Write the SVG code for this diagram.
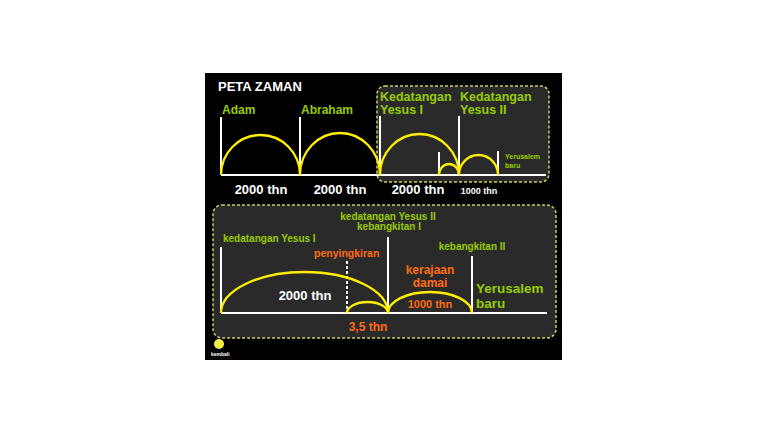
<svg xmlns="http://www.w3.org/2000/svg" width="768" height="433" viewBox="0 0 768 433">
<style>
text{font-family:"Liberation Sans",Arial,sans-serif;font-weight:bold}
.w{fill:#ffffff}
.g{fill:#99cc00}
.o{fill:#ff6a13}
.ln{stroke:#ffffff;stroke-width:2;fill:none}
.arc{stroke:#ffee00;stroke-width:2.3;fill:none}
.box{fill:#2a2a2a;stroke:#cccc66;stroke-width:1.5;stroke-dasharray:3,2}
</style>
<rect x="0" y="0" width="768" height="433" fill="#ffffff"/>
<rect x="205" y="73" width="357" height="287" fill="#000000"/>
<g id="boxes">
<rect id="box-top" class="box" x="377" y="86" width="172" height="96" rx="8"/>
<rect id="box-bottom" class="box" x="213" y="205" width="343" height="133" rx="9"/>
</g>
<text class="w" x="218" y="91" font-size="13">PETA ZAMAN</text>
<g id="connectors">
<line class="ln" x1="221" y1="175" x2="546" y2="175"/>
<line class="ln" x1="221" y1="117" x2="221" y2="175"/>
<line class="ln" x1="300" y1="117" x2="300" y2="175"/>
<line class="ln" x1="380" y1="116" x2="380" y2="175"/>
<line class="ln" x1="459" y1="116" x2="459" y2="175"/>
<line class="ln" x1="439" y1="152" x2="439" y2="175" stroke-width="1.5"/>
<line class="ln" x1="498" y1="151" x2="498" y2="175"/>
<path class="arc" d="M221,175 A39.5,40 0 0 1 300,175"/>
<path class="arc" d="M300,175 A40,42 0 0 1 380,175"/>
<path class="arc" d="M380,175 A39.5,41 0 0 1 459,175"/>
<path class="arc" d="M439,175 A10,11 0 0 1 459,175"/>
<path class="arc" d="M459,175 A19.5,20 0 0 1 498,175"/>
<line class="ln" x1="221" y1="313" x2="547" y2="313"/>
<line class="ln" x1="221" y1="247" x2="221" y2="313"/>
<line class="ln" x1="347" y1="261" x2="347" y2="313" stroke-width="1" stroke-dasharray="3,2"/>
<line class="ln" x1="388" y1="237" x2="388" y2="313"/>
<line class="ln" x1="472" y1="256" x2="472" y2="313"/>
<path class="arc" d="M221,313 A83.5,41 0 0 1 388,313"/>
<path class="arc" d="M347,313 A20.5,11 0 0 1 388,313"/>
<path class="arc" d="M388,313 A42,21 0 0 1 472,313"/>
</g>
<g id="top-labels">
<text class="g" x="222" y="114" font-size="12">Adam</text>
<text class="g" x="301" y="114" font-size="12">Abraham</text>
<text class="g" x="380" y="101" font-size="12.5">Kedatangan</text>
<text class="g" x="380" y="114" font-size="12.5">Yesus I</text>
<text class="g" x="460" y="101" font-size="12.5">Kedatangan</text>
<text class="g" x="460" y="114" font-size="12.5">Yesus II</text>
<text class="g" x="505" y="159" font-size="7">Yerusalem</text>
<text class="g" x="505" y="168" font-size="7">baru</text>
<text class="w" x="261" y="194" font-size="13" text-anchor="middle">2000 thn</text>
<text class="w" x="340" y="194" font-size="13" text-anchor="middle">2000 thn</text>
<text class="w" x="418" y="194" font-size="13" text-anchor="middle">2000 thn</text>
<text class="w" x="479" y="194" font-size="9" text-anchor="middle">1000 thn</text>
</g>
<g id="bottom-labels">
<text class="g" x="223" y="242" font-size="10">kedatangan Yesus I</text>
<text class="o" x="314" y="257" font-size="10.5">penyingkiran</text>
<text class="g" x="388" y="220" font-size="10" text-anchor="middle">kedatangan Yesus II</text>
<text class="g" x="389" y="230" font-size="10" text-anchor="middle">kebangkitan I</text>
<text class="g" x="472" y="250" font-size="10" text-anchor="middle">kebangkitan II</text>
<text class="o" x="430" y="274" font-size="12" text-anchor="middle">kerajaan</text>
<text class="o" x="430" y="287" font-size="12" text-anchor="middle">damai</text>
<text class="o" x="430" y="308" font-size="11" text-anchor="middle">1000 thn</text>
<text class="g" x="476" y="293" font-size="13.5">Yerusalem</text>
<text class="g" x="476" y="308" font-size="13.5">baru</text>
<text class="w" x="305" y="300" font-size="13" text-anchor="middle">2000 thn</text>
<text class="o" x="368" y="331" font-size="12" text-anchor="middle">3,5 thn</text>
</g>
<g id="kembali">
<circle cx="219" cy="344" r="5" fill="#eeee44"/>
<text class="w" x="211" y="356" font-size="5">kembali</text>
</g>
</svg>
